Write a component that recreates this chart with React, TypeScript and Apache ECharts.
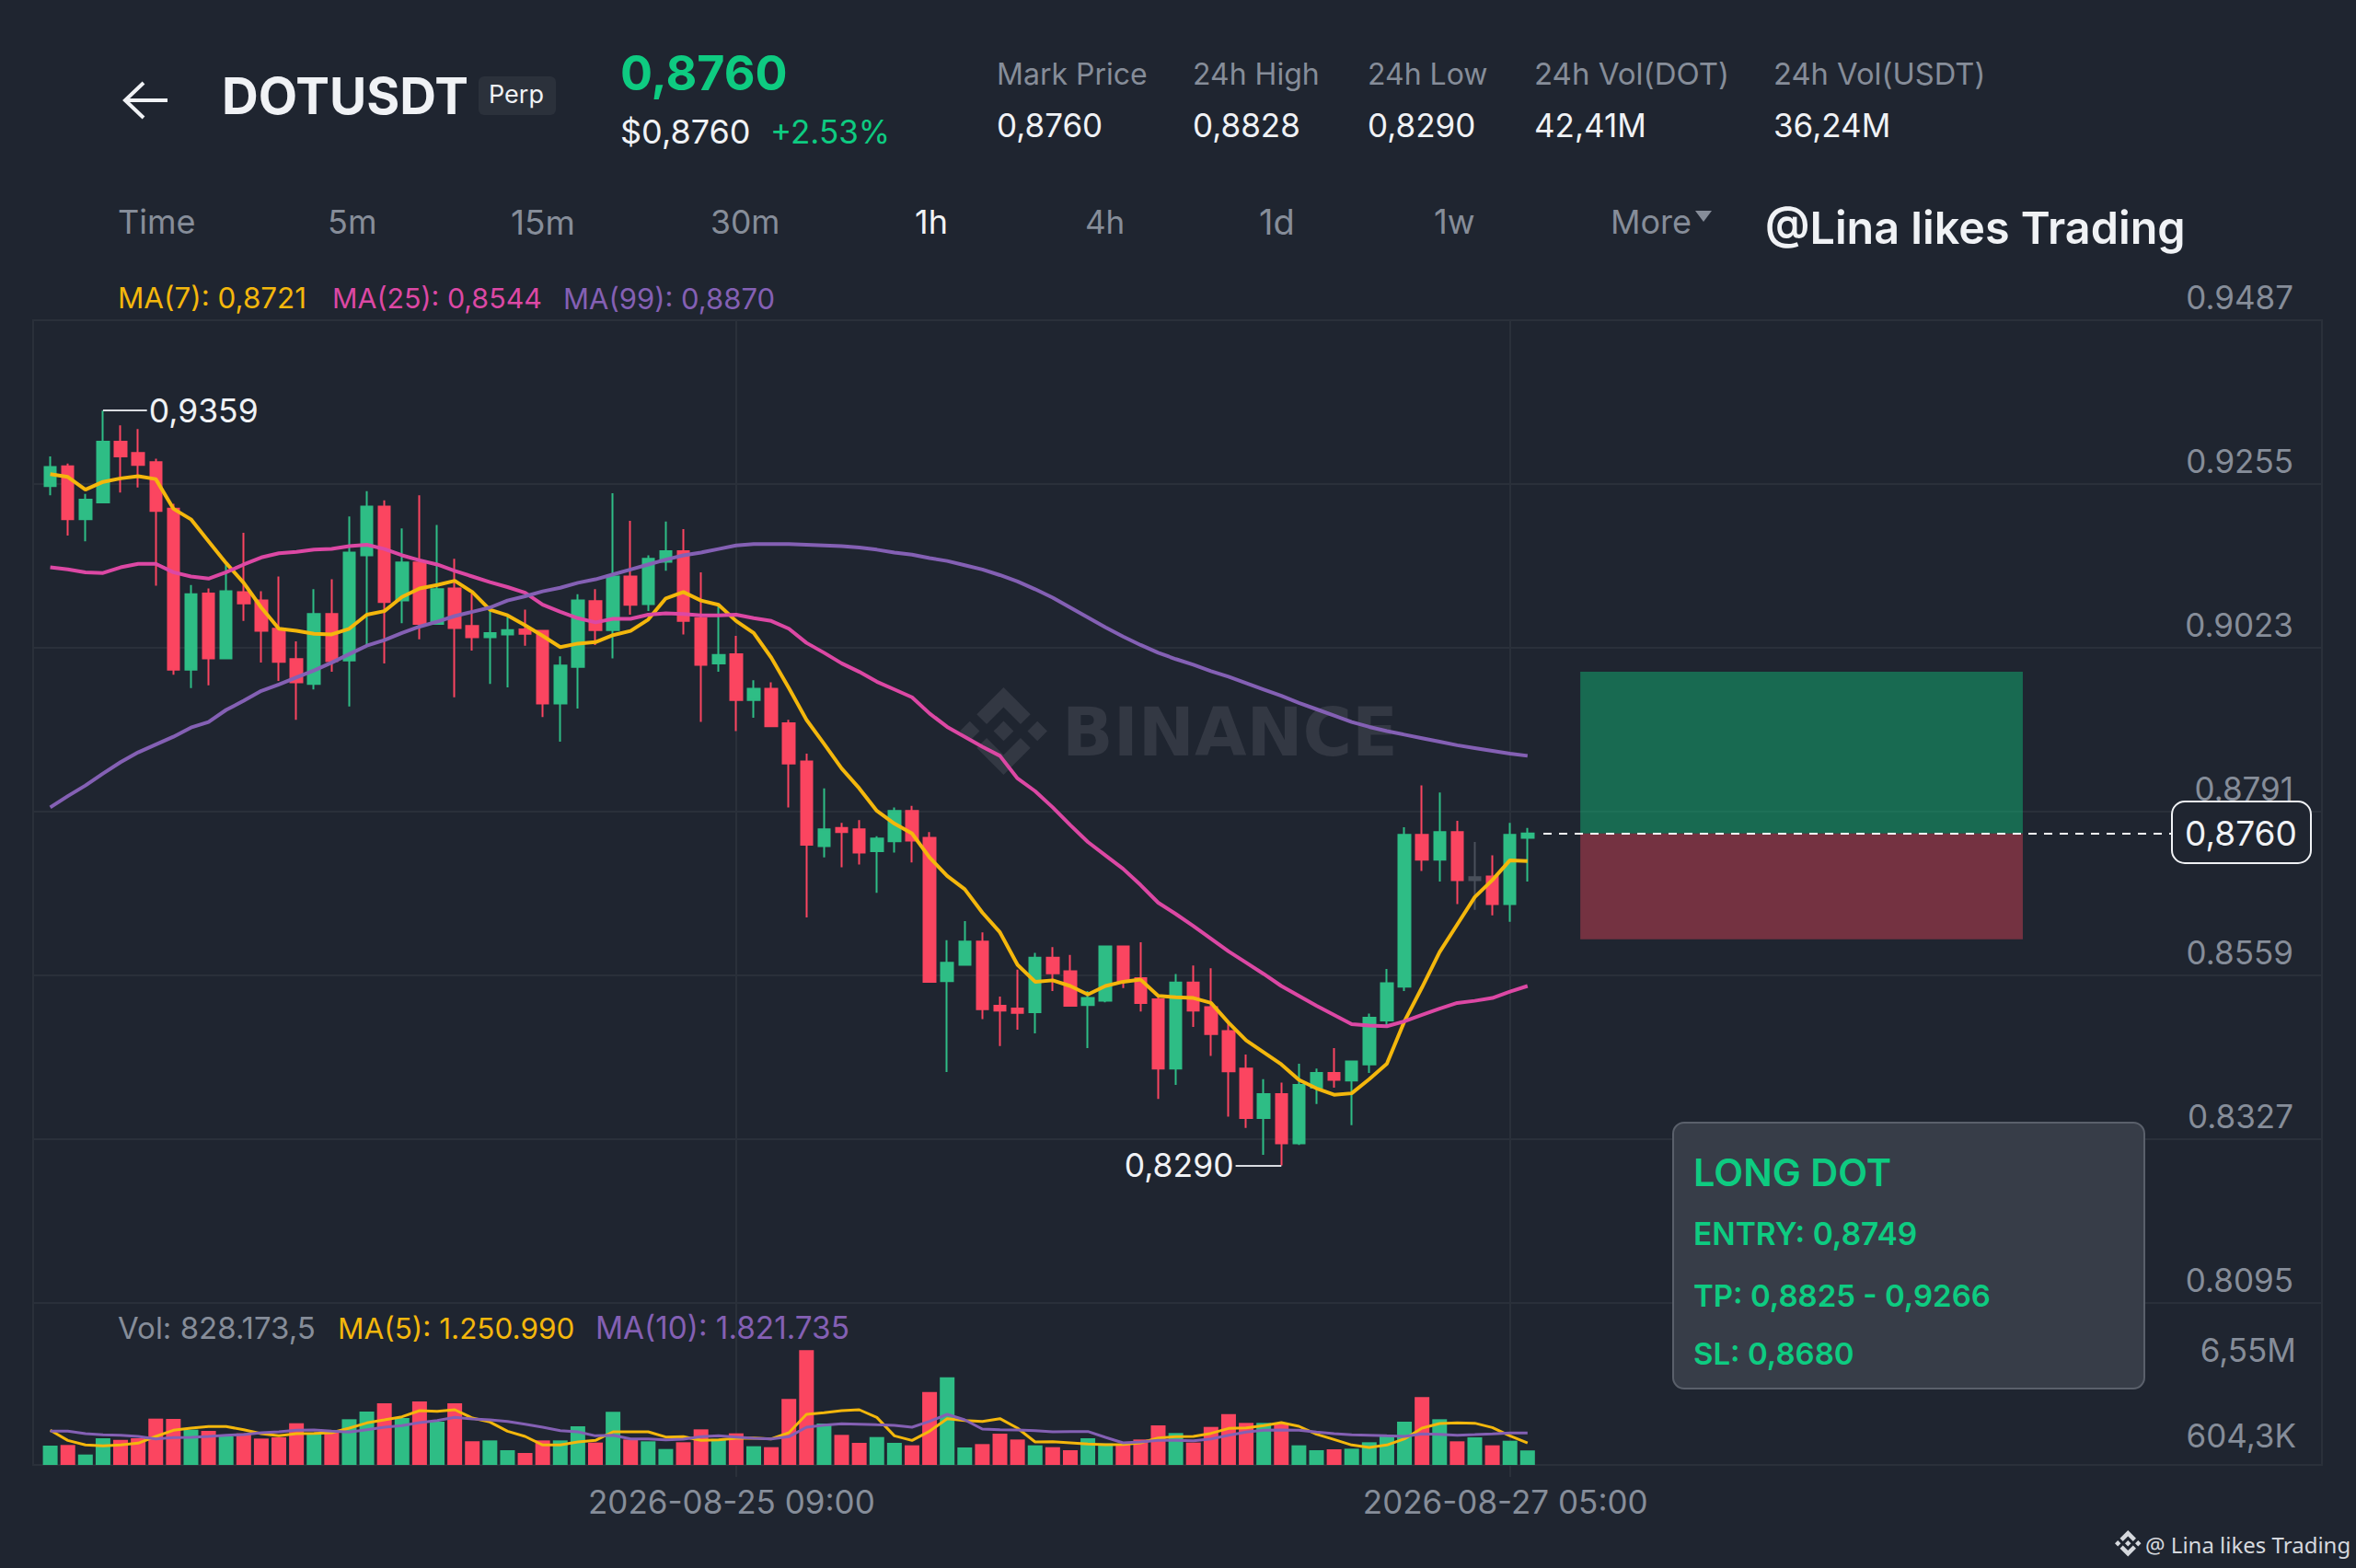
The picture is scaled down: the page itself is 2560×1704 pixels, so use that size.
import React, { useEffect, useRef } from "react";
import * as echarts from "echarts";

const candleOpen = [
  0.9252, 0.928, 0.9205, 0.9229, 0.9315, 0.9299, 0.9286, 0.922, 0.8992, 0.91,
  0.9008, 0.9102, 0.909, 0.905, 0.9007, 0.8972, 0.9071, 0.9005, 0.9154, 0.9223,
  0.909, 0.9144, 0.9057, 0.9107, 0.9054, 0.9038, 0.9042, 0.9049, 0.9047, 0.8944,
  0.8996, 0.9089, 0.9048, 0.9124, 0.9085, 0.9145, 0.916, 0.9065, 0.9001, 0.9014,
  0.8949, 0.8965, 0.8916, 0.8862, 0.8742, 0.8768, 0.8766, 0.8735, 0.8749, 0.8792,
  0.8754, 0.8551, 0.8574, 0.8607, 0.8516, 0.8512, 0.8507, 0.8584, 0.8565, 0.8517,
  0.8523, 0.86, 0.8555, 0.8525, 0.8427, 0.8549, 0.8514, 0.848, 0.8427, 0.8357,
  0.8391, 0.8321, 0.84, 0.8421, 0.841, 0.8433, 0.8495, 0.8543, 0.8758, 0.8723,
  0.8762, 0.8698, 0.8699, 0.866, 0.8754,
];
const candleClose = [
  0.9279, 0.9205, 0.9233, 0.9315, 0.9294, 0.9282, 0.9217, 0.8992, 0.9099, 0.9008,
  0.9103, 0.9086, 0.9047, 0.9003, 0.8974, 0.9071, 0.9004, 0.9158, 0.9223, 0.9088,
  0.9144, 0.9057, 0.9106, 0.9051, 0.9038, 0.9044, 0.9048, 0.9043, 0.8944, 0.8998,
  0.909, 0.9048, 0.9124, 0.9084, 0.9149, 0.916, 0.9061, 0.8999, 0.9013, 0.8949,
  0.8965, 0.8912, 0.8859, 0.8744, 0.8766, 0.8762, 0.8733, 0.8753, 0.8792, 0.875,
  0.855, 0.8577, 0.8607, 0.8511, 0.8509, 0.8506, 0.8584, 0.8562, 0.8516, 0.8527,
  0.86, 0.855, 0.852, 0.8427, 0.8549, 0.8509, 0.8476, 0.8423, 0.8357, 0.8391,
  0.8321, 0.8404, 0.8421, 0.8411, 0.8437, 0.8499, 0.8548, 0.8758, 0.8723, 0.8762,
  0.8694, 0.8694, 0.866, 0.8758, 0.876,
];
const candleLow = [
  0.9239, 0.9182, 0.9174, 0.9229, 0.9243, 0.925, 0.9111, 0.8985, 0.8966, 0.897,
  0.9008, 0.9061, 0.9002, 0.8976, 0.8921, 0.8964, 0.8989, 0.894, 0.9026, 0.9001,
  0.9058, 0.9035, 0.9057, 0.8953, 0.9019, 0.8972, 0.8967, 0.9026, 0.8925, 0.889,
  0.8937, 0.9027, 0.9008, 0.907, 0.9075, 0.9132, 0.9042, 0.8918, 0.8989, 0.8905,
  0.8924, 0.8911, 0.8797, 0.8641, 0.8726, 0.8712, 0.8716, 0.8676, 0.8733, 0.8719,
  0.855, 0.8422, 0.8574, 0.8497, 0.8459, 0.8482, 0.8477, 0.8537, 0.8516, 0.8456,
  0.8521, 0.8541, 0.8508, 0.8384, 0.8404, 0.8486, 0.8445, 0.8359, 0.8343, 0.8305,
  0.829, 0.8319, 0.8377, 0.84, 0.8347, 0.8421, 0.8487, 0.8537, 0.8707, 0.8692,
  0.866, 0.8652, 0.8644, 0.8635, 0.8692,
];
const candleHigh = [
  0.9294, 0.9284, 0.9241, 0.9359, 0.9338, 0.9333, 0.9291, 0.9227, 0.9112, 0.9107,
  0.9141, 0.9186, 0.9103, 0.9124, 0.9032, 0.9106, 0.912, 0.9209, 0.9245, 0.9232,
  0.9192, 0.9239, 0.9197, 0.9149, 0.91, 0.9076, 0.9067, 0.9077, 0.9047, 0.9011,
  0.9099, 0.9106, 0.9242, 0.9203, 0.9154, 0.9202, 0.9191, 0.913, 0.9084, 0.904,
  0.8977, 0.8974, 0.8921, 0.8873, 0.8824, 0.8775, 0.8779, 0.8756, 0.8797, 0.8799,
  0.8762, 0.8609, 0.8636, 0.862, 0.8529, 0.8567, 0.8591, 0.8599, 0.8588, 0.8537,
  0.86, 0.86, 0.8606, 0.8529, 0.8561, 0.8573, 0.8569, 0.8494, 0.8447, 0.8412,
  0.8407, 0.8434, 0.8427, 0.8456, 0.8437, 0.8505, 0.8568, 0.8769, 0.8828, 0.8818,
  0.8778, 0.8748, 0.8729, 0.8775, 0.8768,
];
const dojiIndex = 81;

const ma7 = [
  0.9269, 0.9265, 0.9247, 0.9258, 0.9263, 0.9266, 0.9262, 0.922, 0.9205, 0.9174,
  0.9143, 0.9115, 0.908, 0.905, 0.9047, 0.9043, 0.9042, 0.905, 0.907, 0.9075,
  0.9095, 0.9107, 0.9112, 0.9118, 0.9102, 0.9077, 0.9069, 0.9055, 0.904, 0.9024,
  0.9029, 0.9031, 0.9041, 0.9047, 0.9063, 0.9093, 0.9102, 0.909, 0.9084, 0.9061,
  0.9044, 0.9009, 0.8966, 0.8921, 0.8887, 0.8852, 0.8824, 0.8792, 0.8774, 0.876,
  0.8726, 0.87, 0.8681, 0.8648, 0.862, 0.8574, 0.855, 0.8552, 0.8544, 0.8532,
  0.8544, 0.855, 0.8553, 0.853, 0.8528, 0.8527, 0.852, 0.8492, 0.8467, 0.845,
  0.8433, 0.8411, 0.8399, 0.839, 0.8392, 0.8412, 0.8434, 0.8494, 0.8542, 0.8592,
  0.8631, 0.867, 0.8694, 0.8722, 0.8721,
];
const ma25 = [
  0.9137, 0.9134, 0.913, 0.9129, 0.9137, 0.9142, 0.9142, 0.913, 0.9124, 0.9121,
  0.913, 0.9141, 0.9151, 0.9157, 0.9159, 0.9162, 0.9163, 0.9167, 0.9169, 0.9163,
  0.9154, 0.9147, 0.9141, 0.9132, 0.9124, 0.9116, 0.9109, 0.9101, 0.9084, 0.9074,
  0.9065, 0.9059, 0.9064, 0.9064, 0.907, 0.9072, 0.9071, 0.9069, 0.9069, 0.907,
  0.9065, 0.9061, 0.905, 0.903, 0.9016, 0.9001, 0.8989, 0.8975, 0.8964, 0.8953,
  0.893, 0.8911, 0.8897, 0.8883, 0.887, 0.8838, 0.882, 0.8797, 0.8772, 0.8748,
  0.8729, 0.871, 0.8687, 0.8662, 0.8646, 0.8629, 0.8611, 0.8593, 0.8577, 0.8561,
  0.8544, 0.853, 0.8516, 0.8503, 0.849, 0.8488, 0.8487, 0.8494, 0.8503, 0.8512,
  0.852, 0.8523, 0.8527, 0.8536, 0.8544,
];
const ma99 = [
  0.8797, 0.8813, 0.8828, 0.8845, 0.8861, 0.8875, 0.8886, 0.8897, 0.891, 0.8918,
  0.8935, 0.8948, 0.8962, 0.8971, 0.8981, 0.8991, 0.9002, 0.9014, 0.9026, 0.9034,
  0.9044, 0.9053, 0.906, 0.9068, 0.9074, 0.908, 0.909, 0.9096, 0.9103, 0.9108,
  0.9115, 0.912, 0.9127, 0.9134, 0.9141, 0.9148, 0.9154, 0.9158, 0.9163, 0.9168,
  0.917, 0.917, 0.917, 0.9169, 0.9168, 0.9167, 0.9165, 0.9162, 0.9158, 0.9155,
  0.915, 0.9146, 0.914, 0.9134, 0.9126, 0.9117, 0.9106, 0.9094, 0.908, 0.9066,
  0.9052, 0.9039, 0.9027, 0.9016, 0.9007, 0.8999, 0.899, 0.8982, 0.8973, 0.8964,
  0.8955, 0.8945, 0.8936, 0.8927, 0.8918, 0.8911, 0.8905, 0.89, 0.8895, 0.889,
  0.8885, 0.8881, 0.8877, 0.8873, 0.887,
];

const volume = [
  1102000, 1138000, 595000, 1522000, 1435000, 1522000, 2642000, 2625000, 2012000, 1942000,
  1628000, 1802000, 1505000, 1575000, 2380000, 1820000, 1838000, 2608000, 3045000, 3518000,
  2678000, 3622000, 2468000, 3518000, 1348000, 1400000, 840000, 682000, 1400000, 1400000,
  2205000, 1278000, 3028000, 1452000, 1348000, 910000, 1295000, 2030000, 1488000, 1802000,
  1068000, 1015000, 3762000, 6550000, 2362000, 1715000, 1260000, 1592000, 1260000, 1120000,
  4165000, 5005000, 998000, 1190000, 1785000, 1452000, 1120000, 1015000, 840000, 1522000,
  1225000, 1172000, 1452000, 2258000, 1820000, 1278000, 2170000, 2905000, 2398000, 2398000,
  2362000, 1120000, 840000, 892000, 928000, 1295000, 1628000, 2468000, 3868000, 2608000,
  1348000, 1575000, 1120000, 1382000, 828173.5,
];
const volMa5 = [
  1978000, 1400000, 1138000, 1085000, 1138000, 1242000, 1628000, 1978000, 2100000, 2188000,
  2188000, 2012000, 1785000, 1662000, 1785000, 1802000, 1838000, 2100000, 2398000, 2572000,
  2748000, 3098000, 3062000, 3150000, 2678000, 2450000, 1925000, 1628000, 1138000, 1138000,
  1312000, 1400000, 1890000, 1890000, 1890000, 1592000, 1610000, 1400000, 1435000, 1522000,
  1540000, 1488000, 1838000, 2888000, 2975000, 3098000, 3150000, 2712000, 1662000, 1400000,
  1925000, 2642000, 2538000, 2485000, 2642000, 2100000, 1312000, 1330000, 1260000, 1190000,
  1155000, 1172000, 1260000, 1540000, 1610000, 1628000, 1802000, 2082000, 2118000, 2240000,
  2415000, 2205000, 1750000, 1452000, 1138000, 998000, 1138000, 1488000, 2100000, 2362000,
  2398000, 2380000, 2135000, 1662000, 1250990,
];
const volMa10 = [
  1925000, 1925000, 1785000, 1715000, 1698000, 1628000, 1488000, 1558000, 1575000, 1628000,
  1698000, 1732000, 1838000, 1890000, 1978000, 1995000, 1925000, 1872000, 2012000, 2152000,
  2240000, 2415000, 2538000, 2712000, 2625000, 2572000, 2485000, 2328000, 2152000, 1960000,
  1890000, 1662000, 1698000, 1488000, 1488000, 1435000, 1470000, 1610000, 1662000, 1592000,
  1522000, 1488000, 1610000, 2152000, 2275000, 2345000, 2328000, 2292000, 2258000, 2152000,
  2485000, 2888000, 2572000, 2048000, 2012000, 1995000, 1960000, 1890000, 1908000, 1908000,
  1575000, 1260000, 1312000, 1400000, 1400000, 1382000, 1488000, 1698000, 1872000, 1978000,
  1995000, 1978000, 1872000, 1785000, 1715000, 1698000, 1662000, 1628000, 1768000, 1750000,
  1698000, 1732000, 1768000, 1820000, 1821735,
];

const priceTicks = [0.8095, 0.8327, 0.8559, 0.8791, 0.9023, 0.9255, 0.9487];
const volTicks = [604300, 6550000];
const volTickLabels = ["604,3K", "6,55M"];
const dateTicks = [39, 83];
const dateLabels = ["2026-08-25 09:00", "2026-08-27 05:00"];
const lastPrice = 0.876;
const planTop = 0.8989;
const planStop = 0.861;
const planFrom = 87;
const planTo = 112.16;
const priceLineEnd = 120.6;

const BG = "#1f2530";
const GRID = "#2a303a";
const GREEN = "#2ebd85";
const RED = "#fb4560";
const BRIGHT = "#0ecb81";
const GREY = "#868d99";
const WHITE = "#f0f2f5";
const YELLOW = "#f4b70c";
const PINK = "#dc48a4";
const PURPLE = "#8460b4";
const FONT = "Inter";

const LOGO =
  "M38.73 53.2l24.59-24.58 24.6 24.6 14.3-14.31L63.32 0 24.42 38.9zM0 63.31l14.3-14.31 14.31 14.31-14.31 14.3zM38.73 73.41l24.59 24.59 24.6-24.6 14.31 14.29-38.9 38.91-38.91-38.88zM98 63.31l14.3-14.31 14.31 14.3-14.31 14.32zM77.83 63.3L63.32 48.78 52.59 59.51l-1.24 1.23-2.54 2.54 14.51 14.5 14.51-14.47z";
echarts.graphic.registerShape("logo", echarts.graphic.extendPath(LOGO, {}) as any);

function label(text: string, x: number, y: number, fill: string, size: number, weight: number = 400, align: string = "left", family: string = FONT, z: number = 100) {
  return {
    type: "text",
    x,
    y,
    z,
    silent: true,
    style: {
      text,
      fill,
      fontSize: size,
      fontWeight: weight,
      fontFamily: family,
      align,
      textAlign: align,
      verticalAlign: "middle",
      textVerticalAlign: "middle",
    },
  };
}

function buildOption() {
  const xBase = { type: "value", min: -0.973, max: 129.17 };
  const elements: any[] = [
    { type: "logo", x: 1043, y: 747, scaleX: 0.75, scaleY: 0.75, z: 0, silent: true, style: { fill: "#333843" } },
    label("BINANCE", 1154, 795, "#333843", 73, 700, "left", "DejaVu Sans", 0),

    { type: "polyline", z: 100, silent: true, shape: { points: [[182, 109], [136, 109]] }, style: { stroke: WHITE, lineWidth: 4, fill: "none" } },
    { type: "polyline", z: 100, silent: true, shape: { points: [[156, 90], [136, 109], [156, 128]] }, style: { stroke: WHITE, lineWidth: 4, fill: "none" } },
    label("DOTUSDT", 241, 104, WHITE, 55, 700),
    { type: "rect", z: 100, silent: true, shape: { x: 520, y: 83, width: 84, height: 42, r: 6 }, style: { fill: "#2b313b" } },
    label("Perp", 531, 102, WHITE, 27, 400),
    label("0,8760", 674, 79, BRIGHT, 52, 700),
    label("$0,8760", 674, 143, WHITE, 36),
    label("+2.53%", 837, 143, BRIGHT, 35),

    label("Mark Price", 1083, 80, GREY, 32),
    label("0,8760", 1083, 136, WHITE, 35),
    label("24h High", 1296, 80, GREY, 32),
    label("0,8828", 1296, 136, WHITE, 35),
    label("24h Low", 1486, 80, GREY, 32),
    label("0,8290", 1486, 136, WHITE, 35),
    label("24h Vol(DOT)", 1667, 80, GREY, 33),
    label("42,41M", 1667, 136, WHITE, 35),
    label("24h Vol(USDT)", 1927, 80, GREY, 32.7),
    label("36,24M", 1927, 136, WHITE, 35),

    label("Time", 128, 241, GREY, 36),
    label("5m", 356, 241, GREY, 36),
    label("15m", 555, 241, GREY, 37),
    label("30m", 772, 241, GREY, 35.5),
    label("1h", 994, 241, WHITE, 36),
    label("4h", 1179, 241, GREY, 35),
    label("1d", 1368, 241, GREY, 38),
    label("1w", 1558, 241, GREY, 36.5),
    label("More", 1750, 241, GREY, 36),
    { type: "polygon", z: 100, silent: true, shape: { points: [[1842, 229], [1860, 229], [1851, 241]] }, style: { fill: GREY } },
    label("@Lina likes Trading", 1918, 247, WHITE, 48.5, 600),

    label("MA(7): 0,8721", 128, 324, YELLOW, 31.4),
    label("MA(25): 0,8544", 361, 324, PINK, 30.4),
    label("MA(99): 0,8870", 612, 324, PURPLE, 31),

    label("Vol: 828.173,5", 128, 1443, GREY, 33),
    label("MA(5): 1.250.990", 367, 1443, YELLOW, 31.5),
    label("MA(10): 1.821.735", 647, 1443, PURPLE, 33.3),

    { type: "rect", z: 110, silent: true, shape: { x: 2360, y: 871, width: 151, height: 67, r: 14 }, style: { fill: BG, stroke: WHITE, lineWidth: 2 } },
    label("0,8760", 2435, 905, WHITE, 37, 400, "center", FONT, 111),

    { type: "rect", z: 100, silent: true, shape: { x: 1818, y: 1220, width: 512, height: 289, r: 12 }, style: { fill: "#373d48", stroke: "#5a606b", lineWidth: 2 } },
    label("LONG DOT", 1840, 1274, BRIGHT, 41.5, 600),
    label("ENTRY: 0,8749", 1840, 1341, BRIGHT, 33.5, 600),
    label("TP: 0,8825 - 0,9266", 1840, 1408, BRIGHT, 33, 600),
    label("SL: 0,8680", 1840, 1471, BRIGHT, 33, 600),

    { type: "logo", x: 2298, y: 1663, scaleX: 0.225, scaleY: 0.225, z: 100, silent: true, style: { fill: "#d5d8dd" } },
    label("@ Lina likes Trading", 2331, 1678, "#d5d8dd", 24, 400, "left", "Noto Sans"),
  ];

  const candles = candleOpen.map((o, i) => {
    const value = [i, o, candleClose[i], candleLow[i], candleHigh[i]];
    if (i === dojiIndex) {
      const c = "#4a505b";
      return { value, itemStyle: { color: c, color0: c, borderColor: c, borderColor0: c } };
    }
    return { value };
  });
  const xy = (arr: number[]) => arr.map((v, i) => [i, v]);
  const line = (name: string, data: number[], color: string, xAxisIndex: number, yAxisIndex: number, width: number) => ({
    name,
    type: "line",
    xAxisIndex,
    yAxisIndex,
    data: xy(data),
    symbol: "none",
    showSymbol: false,
    smooth: false,
    z: 5,
    lineStyle: { color, width },
    emphasis: { disabled: true },
  });

  return {
    animation: false,
    backgroundColor: BG,
    textStyle: { fontFamily: FONT },
    grid: [
      { left: 36, top: 348, width: 2487, height: 1068, show: true, borderColor: GRID, borderWidth: 2, backgroundColor: "transparent" },
      { left: 36, top: 1416, width: 2487, height: 176, show: true, borderColor: GRID, borderWidth: 2, backgroundColor: "transparent" },
    ],
    xAxis: [
      {
        ...xBase,
        gridIndex: 0,
        axisLine: { show: false },
        axisTick: { show: false, customValues: dateTicks },
        axisLabel: { show: false, customValues: dateTicks },
        splitLine: { show: true, lineStyle: { color: GRID, width: 2 } },
      },
      {
        ...xBase,
        gridIndex: 1,
        axisLine: { show: true, lineStyle: { color: GRID, width: 2 } },
        axisTick: { show: true, length: 13, customValues: dateTicks, lineStyle: { color: GRID, width: 2 } },
        axisLabel: {
          show: true,
          customValues: dateTicks,
          color: GREY,
          fontSize: 35,
          fontFamily: FONT,
          margin: 22,
          padding: [0, 10, 0, 0],
          formatter: (v: number) => dateLabels[dateTicks.indexOf(v)] ?? "",
        },
        splitLine: { show: true, lineStyle: { color: GRID, width: 2 } },
      },
    ],
    yAxis: [
      {
        type: "value",
        gridIndex: 0,
        position: "right",
        min: 0.8095,
        max: 0.9487,
        axisLine: { show: false },
        axisTick: { show: false, customValues: priceTicks },
        axisLabel: {
          show: true,
          inside: true,
          customValues: priceTicks,
          color: GREY,
          fontSize: 35,
          fontFamily: FONT,
          margin: 31,
          verticalAlign: "bottom",
          padding: [0, 0, 8, 0],
          formatter: (v: number) => v.toFixed(4),
        },
        splitLine: { show: true, lineStyle: { color: GRID, width: 2 } },
      },
      {
        type: "value",
        gridIndex: 1,
        position: "right",
        min: 0,
        max: 9240000,
        axisLine: { show: false },
        axisTick: { show: false, customValues: volTicks },
        axisLabel: {
          show: true,
          inside: true,
          customValues: volTicks,
          color: GREY,
          fontSize: 35,
          fontFamily: FONT,
          margin: 28,
          formatter: (v: number) => {
            const t = volTickLabels[volTicks.indexOf(v)] ?? "";
            return v === volTicks[0] ? `{low|${t}}` : t;
          },
          rich: { low: { color: GREY, fontSize: 35, fontFamily: FONT, padding: [0, 0, 40, 0] } },
        },
        splitLine: { show: false },
      },
    ],
    series: [
      {
        name: "DOTUSDT",
        type: "candlestick",
        xAxisIndex: 0,
        yAxisIndex: 0,
        barWidth: 13,
        data: candles,
        itemStyle: { color: GREEN, color0: RED, borderColor: GREEN, borderColor0: RED, borderWidth: 2 },
        emphasis: { disabled: true },
        markArea: {
          silent: true,
          data: [
            [
              { coord: [planFrom, planTop], itemStyle: { color: "rgba(14,203,129,0.42)" } },
              { coord: [planTo, lastPrice] },
            ],
            [
              { coord: [planFrom, lastPrice], itemStyle: { color: "rgba(246,70,93,0.40)" } },
              { coord: [planTo, planStop] },
            ],
          ],
        },
        markLine: {
          silent: true,
          symbol: "none",
          animation: false,
          data: [
            [
              { coord: [84.9, lastPrice], lineStyle: { color: "#ffffff", width: 2, type: [9, 8] }, label: { show: false } },
              { coord: [priceLineEnd, lastPrice] },
            ],
            [
              {
                coord: [3, 0.9359],
                lineStyle: { color: "#d9dce1", width: 2, type: "solid" },
                label: { show: true, position: "end", formatter: "0,9359", color: WHITE, fontSize: 35.5, fontFamily: FONT, distance: 2 },
              },
              { coord: [5.5, 0.9359] },
            ],
            [
              {
                coord: [67.4, 0.829],
                lineStyle: { color: "#d9dce1", width: 2, type: "solid" },
                label: { show: true, position: "start", formatter: "0,8290", color: WHITE, fontSize: 35.5, fontFamily: FONT, distance: 2 },
              },
              { coord: [70, 0.829] },
            ],
          ],
        },
      },
      line("MA(7)", ma7, YELLOW, 0, 0, 4),
      line("MA(25)", ma25, PINK, 0, 0, 4),
      line("MA(99)", ma99, PURPLE, 0, 0, 4),
      {
        name: "Vol",
        type: "bar",
        xAxisIndex: 1,
        yAxisIndex: 1,
        barWidth: 16,
        data: volume.map((v, i) => ({
          value: [i, v],
          itemStyle: { color: candleClose[i] >= candleOpen[i] || i === dojiIndex ? GREEN : RED },
        })),
        emphasis: { disabled: true },
      },
      line("MA(5)", volMa5, YELLOW, 1, 1, 3),
      line("MA(10)", volMa10, PURPLE, 1, 1, 3),
    ],
    graphic: { elements },
  };
}

export default function App() {
  const ref = useRef<HTMLDivElement | null>(null);
  useEffect(() => {
    document.body.style.margin = "0";
    document.body.style.background = BG;
    const chart = echarts.init(ref.current!, undefined, { renderer: "svg" });
    chart.setOption(buildOption() as any);
    return () => chart.dispose();
  }, []);
  return <div ref={ref} style={{ width: 2560, height: 1704 }} />;
}
